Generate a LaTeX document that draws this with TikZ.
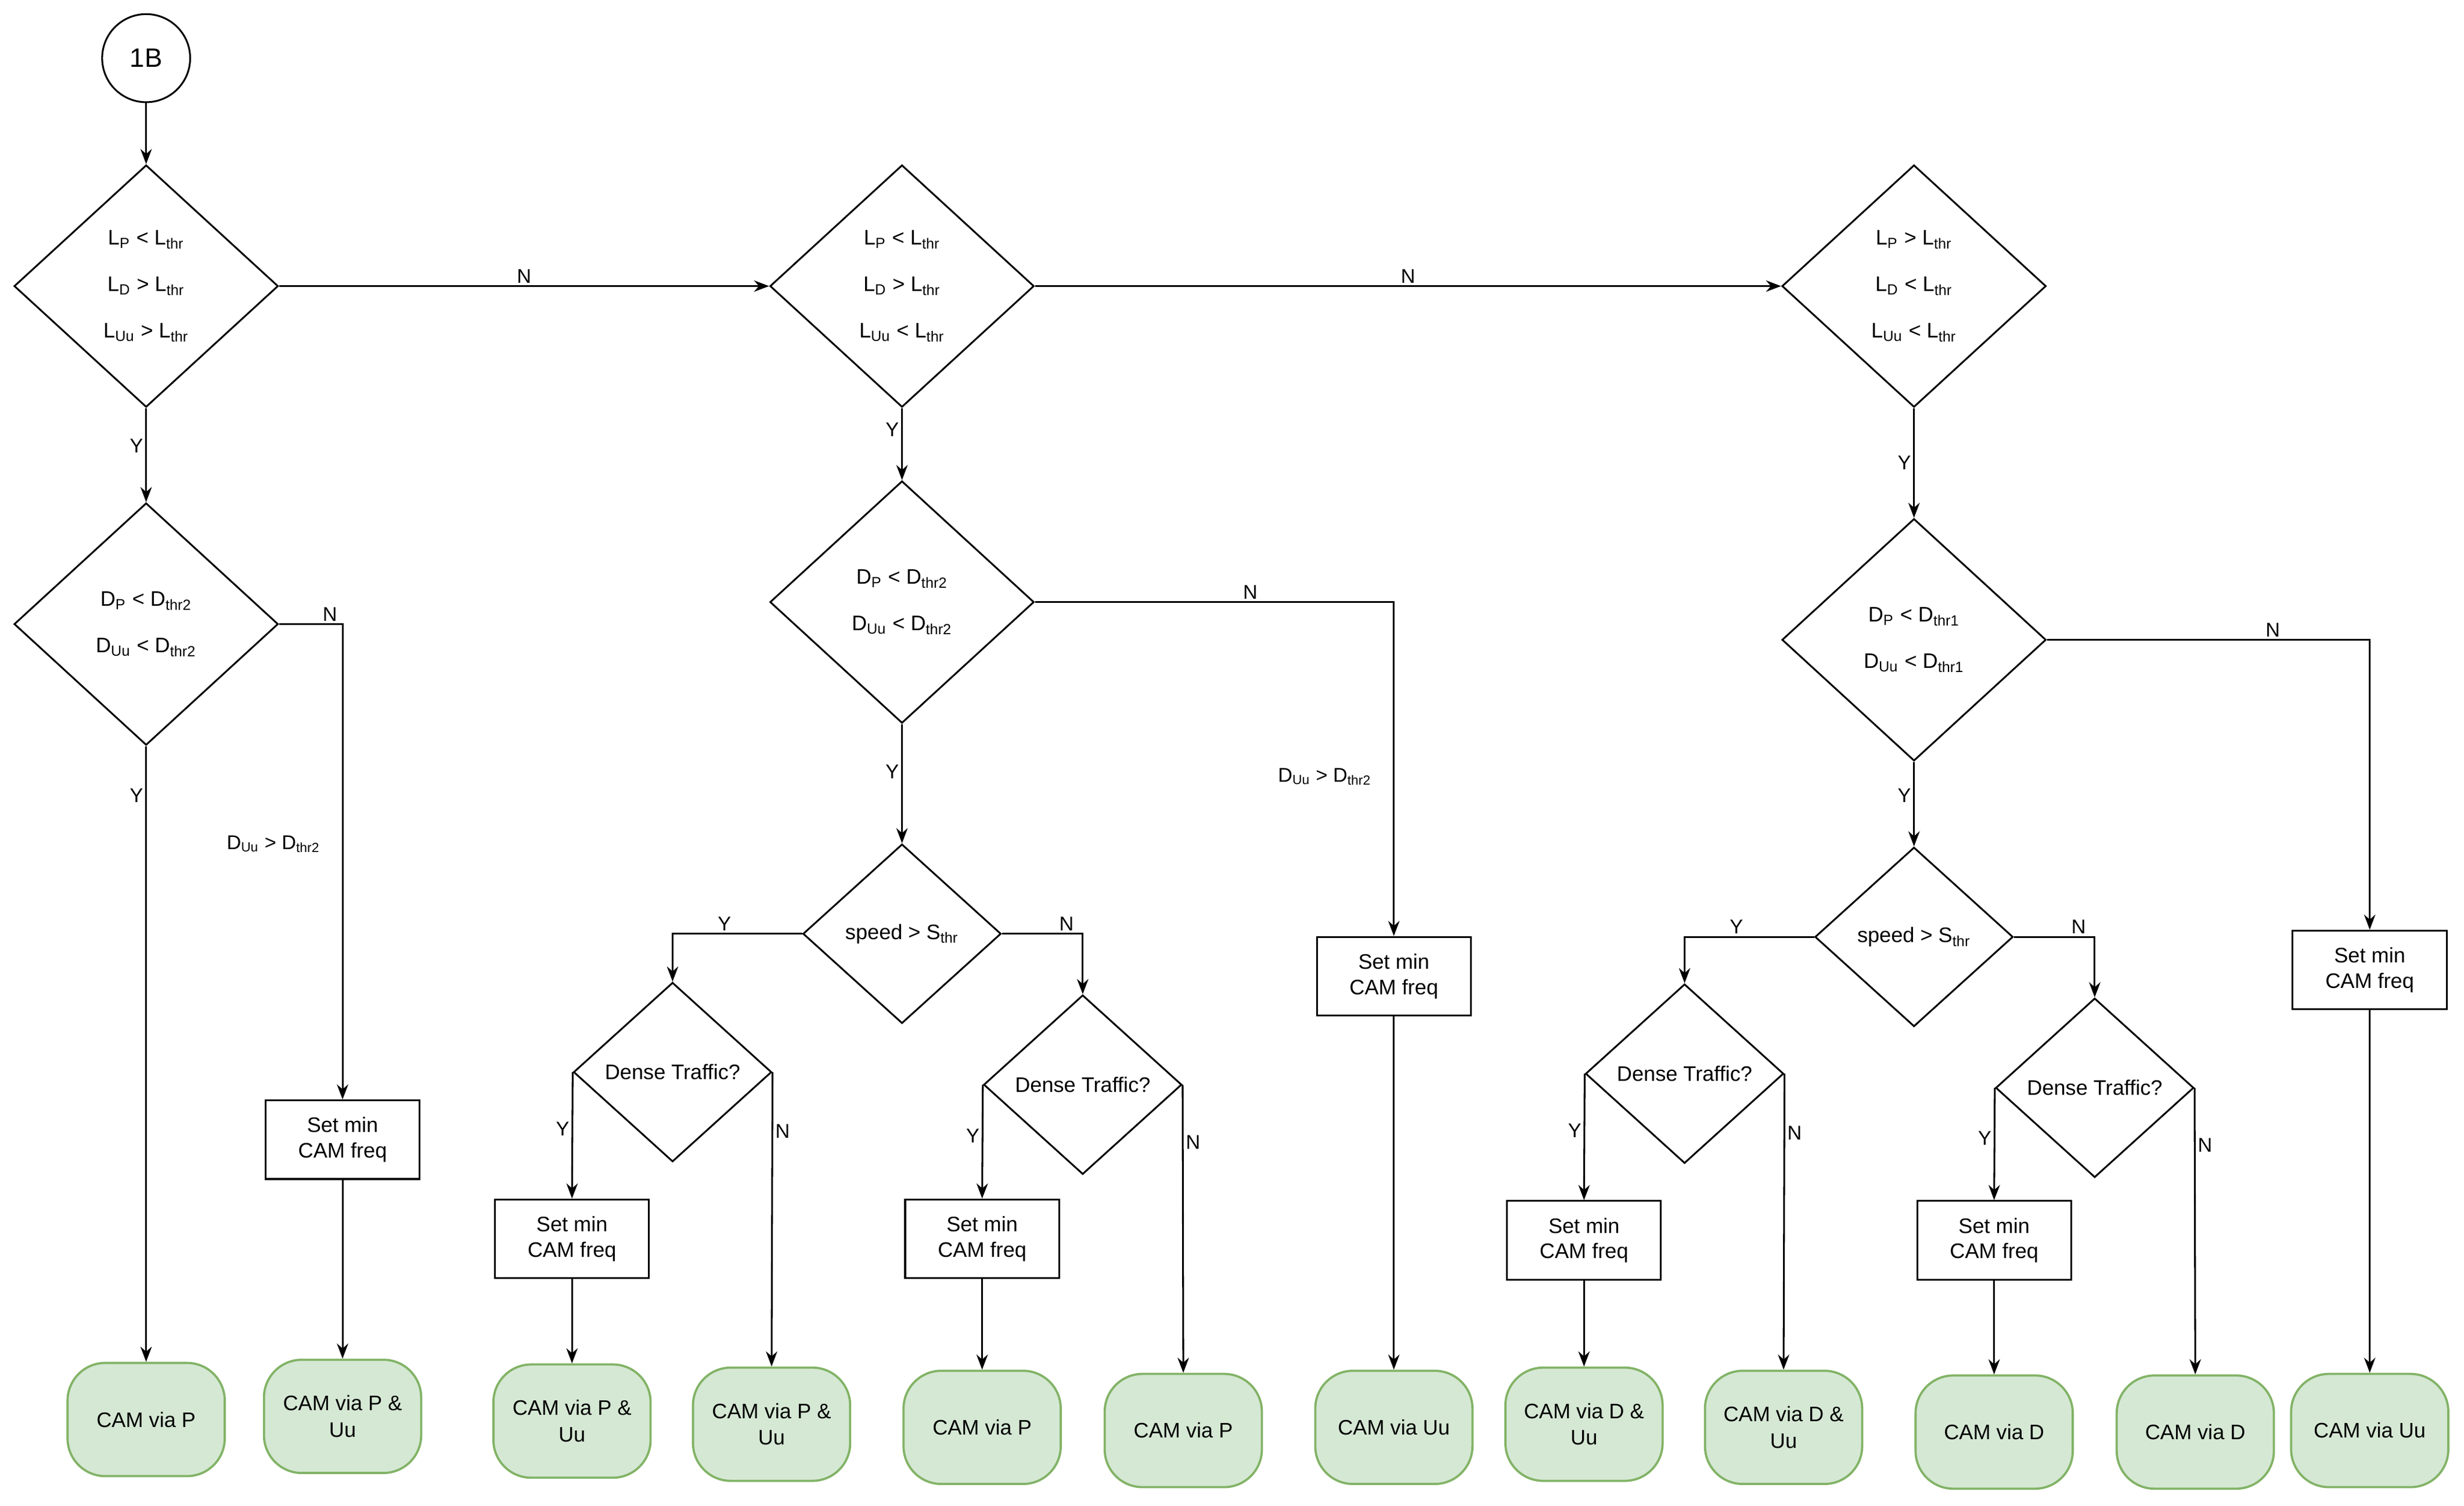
\documentclass[tikz,border=0pt]{standalone}
\usepackage{fontspec}
\setmainfont{Liberation Sans}
\usetikzlibrary{shapes.geometric,arrows.meta}
\definecolor{termfill}{HTML}{D5E8D4}
\definecolor{termdraw}{HTML}{82B366}
\tikzset{
  dec/.style={draw,diamond,inner sep=0pt,minimum width=4.2cm,minimum height=3.85cm,align=center,font=\fontsize{9.5}{21}\selectfont},
  small dec/.style={draw,diamond,inner sep=0pt,minimum width=3.15cm,minimum height=2.85cm,align=center,font=\fontsize{9.5}{11}\selectfont},
  proc/.style={draw,fill=white,minimum width=2.45cm,minimum height=1.25cm,align=center,font=\fontsize{9.5}{11.5}\selectfont},
  term/.style={draw=termdraw,fill=termfill,line width=1pt,rounded corners=0.6cm,minimum width=2.5cm,minimum height=1.8cm,align=center,font=\fontsize{9.5}{12}\selectfont},
  conn/.style={draw,-{Stealth[length=2.4mm,width=1.8mm]}},
  lab/.style={font=\fontsize{9}{11}\selectfont,inner sep=1pt}
}
\newcommand{\sub}[2]{#1\textsubscript{#2}}
\begin{document}
\begin{tikzpicture}[x=0.025cm,y=-0.025cm,thick]
  \useasboundingbox (0,0) rectangle (1568,958);

  % Start
  \node[draw,circle,minimum size=1.4cm,font=\fontsize{12}{14}\selectfont] (start) at (93,37) {1B};

  % Top decisions
  \node[dec] (d1) at (93,182) {\sub{L}{P} < \sub{L}{thr}\\\sub{L}{D} > \sub{L}{thr}\\\sub{L}{Uu} > \sub{L}{thr}};
  \node[dec] (d2) at (574,182) {\sub{L}{P} < \sub{L}{thr}\\\sub{L}{D} > \sub{L}{thr}\\\sub{L}{Uu} < \sub{L}{thr}};
  \node[dec] (d3) at (1218,182) {\sub{L}{P} > \sub{L}{thr}\\\sub{L}{D} < \sub{L}{thr}\\\sub{L}{Uu} < \sub{L}{thr}};

  % Distance decisions
  \node[dec] (e1) at (93,397) {\sub{D}{P} < \sub{D}{thr2}\\\sub{D}{Uu} < \sub{D}{thr2}};
  \node[dec] (e2) at (574,383) {\sub{D}{P} < \sub{D}{thr2}\\\sub{D}{Uu} < \sub{D}{thr2}};
  \node[dec] (e3) at (1218,407) {\sub{D}{P} < \sub{D}{thr1}\\\sub{D}{Uu} < \sub{D}{thr1}};

  % Speed and traffic
  \node[small dec] (s2) at (574,594) {speed > \sub{S}{thr}};
  \node[small dec] (s3) at (1218,596) {speed > \sub{S}{thr}};
  \node[small dec] (t2a) at (428,682) {Dense Traffic?};
  \node[small dec] (t2b) at (689,690) {Dense Traffic?};
  \node[small dec] (t3a) at (1072,683) {Dense Traffic?};
  \node[small dec] (t3b) at (1333,692) {Dense Traffic?};

  % Set min CAM freq
  \node[proc] (p1) at (218,725) {Set min\\CAM freq};
  \node[proc] (p2a) at (364,788) {Set min\\CAM freq};
  \node[proc] (p2b) at (625,788) {Set min\\CAM freq};
  \node[proc] (p2c) at (887,621) {Set min\\CAM freq};
  \node[proc] (p3a) at (1008,789) {Set min\\CAM freq};
  \node[proc] (p3b) at (1269,789) {Set min\\CAM freq};
  \node[proc] (p3c) at (1508,617) {Set min\\CAM freq};

  % Outcomes
  \node[term] (o1) at (93,903) {CAM via P};
  \node[term] (o2) at (218,901) {CAM via P \&\\Uu};
  \node[term] (o3) at (364,904) {CAM via P \&\\Uu};
  \node[term] (o4) at (491,906) {CAM via P \&\\Uu};
  \node[term] (o5) at (625,908) {CAM via P};
  \node[term] (o6) at (753,910) {CAM via P};
  \node[term] (o7) at (887,908) {CAM via Uu};
  \node[term] (o8) at (1008,906) {CAM via D \&\\Uu};
  \node[term] (o9) at (1135,908) {CAM via D \&\\Uu};
  \node[term] (o10) at (1269,911) {CAM via D};
  \node[term] (o11) at (1397,911) {CAM via D};
  \node[term] (o12) at (1508,910) {CAM via Uu};

  % Connectors
  \draw[conn] (start) -- (d1);
  \draw[conn] (d1.east) -- node[lab,above] {N} (d2.west);
  \draw[conn] (d2.east) -- node[lab,above] {N} (d3.west);
  \draw[conn] (d1.south) -- node[lab,left,pos=0.4] {Y} (e1.north);
  \draw[conn] (d2.south) -- node[lab,left,pos=0.3] {Y} (e2.north);
  \draw[conn] (d3.south) -- node[lab,left,pos=0.5] {Y} (e3.north);

  \draw[conn] (e1.south) -- node[lab,left,pos=0.08] {Y} (o1.north);
  \draw[conn] (e1.east) -| node[lab,above,pos=0.4] {N} (p1.north);
  \node[lab] at (174,537) {\sub{D}{Uu} > \sub{D}{thr2}};
  \draw[conn] (p1) -- (o2);

  \draw[conn] (e2.east) -| node[lab,above,pos=0.3] {N} (p2c.north);
  \node[lab] at (843,494) {\sub{D}{Uu} > \sub{D}{thr2}};
  \draw[conn] (p2c) -- (o7);
  \draw[conn] (e2.south) -- node[lab,left,pos=0.4] {Y} (s2.north);
  \draw[conn] (s2.west) -| node[lab,above,pos=0.3] {Y} (t2a.north);
  \draw[conn] (s2.east) -| node[lab,above,pos=0.4] {N} (t2b.north);
  \draw[conn] (t2a.west) -- node[lab,left,pos=0.45] {Y} (p2a.north);
  \draw[conn] (t2a.east) -- node[lab,right,pos=0.2] {N} (o4.north);
  \draw[conn] (p2a) -- (o3);
  \draw[conn] (t2b.west) -- node[lab,left,pos=0.45] {Y} (p2b.north);
  \draw[conn] (t2b.east) -- node[lab,right,pos=0.2] {N} (o6.north);
  \draw[conn] (p2b) -- (o5);

  \draw[conn] (e3.east) -| node[lab,above,pos=0.35] {N} (p3c.north);
  \draw[conn] (p3c) -- (o12);
  \draw[conn] (e3.south) -- node[lab,left,pos=0.4] {Y} (s3.north);
  \draw[conn] (s3.west) -| node[lab,above,pos=0.3] {Y} (t3a.north);
  \draw[conn] (s3.east) -| node[lab,above,pos=0.4] {N} (t3b.north);
  \draw[conn] (t3a.west) -- node[lab,left,pos=0.45] {Y} (p3a.north);
  \draw[conn] (t3a.east) -- node[lab,right,pos=0.2] {N} (o9.north);
  \draw[conn] (p3a) -- (o8);
  \draw[conn] (t3b.west) -- node[lab,left,pos=0.45] {Y} (p3b.north);
  \draw[conn] (t3b.east) -- node[lab,right,pos=0.2] {N} (o11.north);
  \draw[conn] (p3b) -- (o10);
\end{tikzpicture}
\end{document}
